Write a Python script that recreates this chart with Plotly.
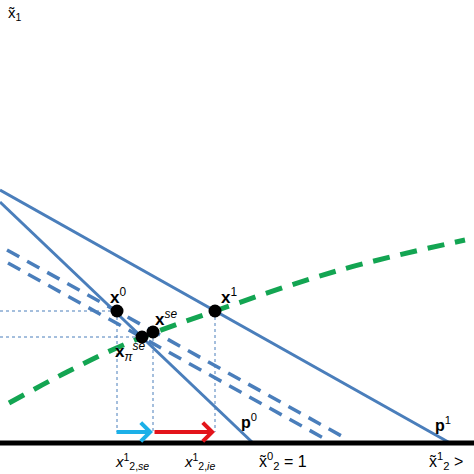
import plotly.graph_objects as go

# podatki (enote: vodoravno x2, navpicno x1, izhodisce na osi)
p0_x = [0, 253]
p0_y = [241, 0]
p1_x = [0, 450]
p1_y = [253, 0]
se_x = [7, 347]          # zgornja crtkana (vzporedna p1 skozi x^se)
se_y = [193, 4]
pi_x = [8, 327]          # spodnja crtkana (skozi x_pi^se)
pi_y = [180, 3]
green_x = [9, 67, 128, 215, 340, 465]
green_y = [40, 71, 100, 132, 173, 203]

pt_names = ["x0", "xse", "xpi", "x1"]
pt_x = [117, 153, 142, 215]
pt_y = [132, 111, 106, 132]

arrow_y = 11
arrow_cyan = [115, 153]
arrow_red = [153, 215]

BLUE = "#4a7ebb"
GREEN = "#13a552"
FONT = "Arial, Liberation Sans, sans-serif"

fig = go.Figure()

# proracunske premice
for xs, ys in [(p0_x, p0_y), (p1_x, p1_y)]:
    fig.add_trace(go.Scatter(x=xs, y=ys, mode="lines",
                             line=dict(color=BLUE, width=3)))
for xs, ys in [(se_x, se_y), (pi_x, pi_y)]:
    fig.add_trace(go.Scatter(x=xs, y=ys, mode="lines",
                             line=dict(color=BLUE, width=3.5, dash="14px,9px")))

# zelena krivulja
fig.add_trace(go.Scatter(x=green_x, y=green_y, mode="lines",
                         line=dict(color=GREEN, width=5, dash="17px,11px", shape="spline")))

# pomozne pikcaste crte
guide = dict(color=BLUE, width=1, dash="3px,3px")
px = dict(zip(pt_names, pt_x))
py = dict(zip(pt_names, pt_y))
fig.add_trace(go.Scatter(x=[0, px["x0"]], y=[py["x0"], py["x0"]], mode="lines", line=guide))
fig.add_trace(go.Scatter(x=[0, px["xpi"]], y=[py["xpi"], py["xpi"]], mode="lines", line=guide))
for n in ["x0", "xse", "x1"]:
    fig.add_trace(go.Scatter(x=[px[n], px[n]], y=[py[n], arrow_y], mode="lines", line=guide))

# tocke
fig.add_trace(go.Scatter(x=pt_x, y=pt_y, mode="markers",
                         marker=dict(color="black", size=13)))

# os x
fig.add_shape(type="line", x0=0, x1=474, y0=0, y1=0,
              line=dict(color="black", width=5))

# puscici
for (a, b), col in [(arrow_cyan, "#1cb0e8"), (arrow_red, "#e3141b")]:
    fig.add_annotation(x=b, y=arrow_y, ax=a, ay=arrow_y, xref="x", yref="y",
                       axref="x", ayref="y", text="", showarrow=True,
                       arrowhead=4, arrowsize=0.9, arrowwidth=4, arrowcolor=col)

# oznake
labels = [
    (15, 430, "x̃<sub>1</sub>", 15),
    (118, 147, "<b>x</b><sup>0</sup>", 17),
    (166, 125, "<b>x</b><sup><i>se</i></sup>", 17),
    (130, 92, "<b>x</b><sub><i>π</i></sub><sup><i>se</i></sup>", 17),
    (229, 147, "<b>x</b><sup>1</sup>", 17),
    (249, 22, "<b>p</b><sup>0</sup>", 16),
    (443, 19, "<b>p</b><sup>1</sup>", 16),
    (132, -18, "<i>x</i><sup>1</sup><sub>2,<i>se</i></sub>", 15),
    (199, -18, "<i>x</i><sup>1</sup><sub>2,<i>ie</i></sub>", 15),
    (283, -18, "x̃<sup>0</sup><sub>2</sub> = 1", 16),
    (446, -18, "x̃<sup>1</sup><sub>2</sub> >", 16),
]
for x, y, t, s in labels:
    fig.add_annotation(x=x, y=y, text=t, showarrow=False,
                       font=dict(family=FONT, size=s, color="black"))

fig.update_layout(
    width=474, height=474,
    margin=dict(l=0, r=0, t=0, b=0),
    plot_bgcolor="white", paper_bgcolor="white",
    showlegend=False,
    font=dict(family=FONT),
    xaxis=dict(range=[0, 474], visible=False, fixedrange=True),
    yaxis=dict(range=[-31, 443], visible=False, fixedrange=True),
)

# odstrani privzeti rob strani, da se graf poravna z oknom
fig.write_html("out.html", config=dict(displayModeBar=False),
               post_script="document.body.style.margin='0';")
